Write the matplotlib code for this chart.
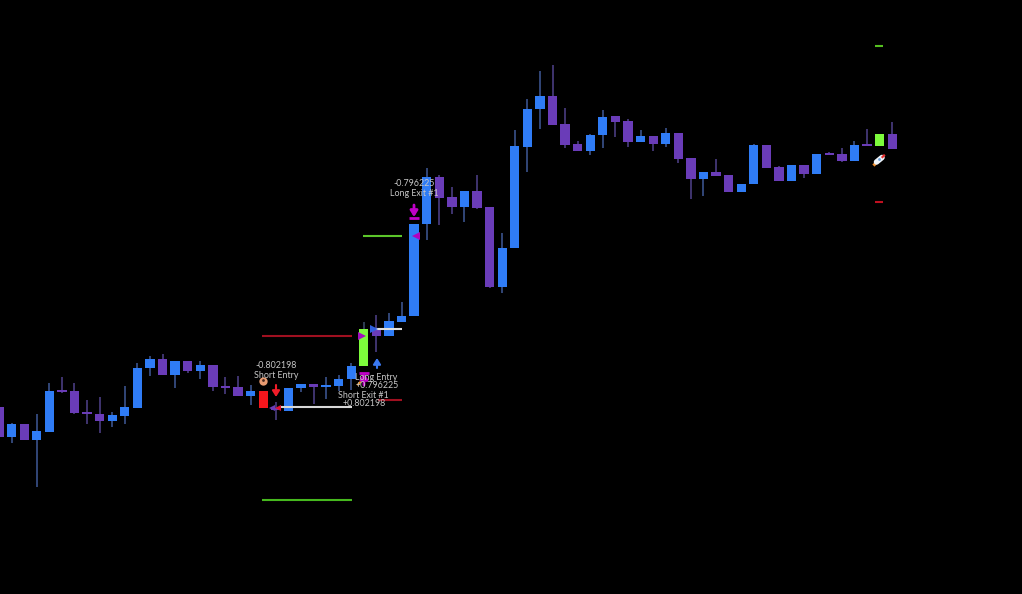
import matplotlib
matplotlib.use("Agg")
import matplotlib.pyplot as plt
from matplotlib.patches import Rectangle

# Price scale runs downward on screen: values are chart-scale readings.
opens_top = [406.7,424,424,431,390.7,390.3,391,412,413.7,415,407.3,367.7,359.3,359.3,360.7,360.7,365,365,386.3,387,
             391.3,391.3,407.7,388,384.3,384.3,385.3,379,365.7,328.7,330,321.3,315.7,224,177.3,177.3,197.3,191,191.3,207,
             248,146,108.7,96,96,124.3,144.3,134.7,116.7,116.3,121.3,135.7,135.7,132.7,132.7,158,171.7,171.7,175.3,183.7,
             145,145,167.3,164.7,164.7,153.7,153.3,154.3,144.7,144.3,134,134]
bodies_bot = [437.3,437,440,440,431.7,391.7,412.7,414,421,421,415.7,408,368.3,375.3,375.3,371,371,387,387.7,396,
              396,408.3,410,410.7,388.3,386.7,387,385.7,379.3,366,335.7,335.7,321.7,316,224,197.7,206.7,206.7,207.7,287,
              287,248.3,146.7,109,125,145,150.7,150.7,135.3,122,142.3,142.3,143.7,143.7,158.7,179,179,175.7,191.7,191.7,
              184,168,180.7,180.7,174.3,174.3,154.7,161,161,145.7,145.7,149.3]
highs = [406.7,422.7,424,414,382.7,376.7,382.7,400,397.3,411.7,386,362.7,356,354,360.7,360.7,360.7,365,376.7,376,
         385,391.3,401.7,388,384.3,384.3,377.3,375,363.3,321.7,315,313.3,301.7,224,168.3,175,187.3,191,175,207,
         232.7,130,99.3,71,65,108.3,141,133.7,110,116.3,119.3,130,135.7,128.3,132.7,158,171.7,159.3,175.3,183.7,
         143.7,145,165.7,164.7,164.7,153.7,152.3,147.7,140.7,129,134,121.7]
lows = [437.3,443,440,486.7,431.7,393.3,414,424.3,432.7,427.3,424.3,408,376,375.3,387.7,373.3,379,390.7,394.3,396,
        405,408.3,420,410.7,391.7,404,399.3,390.7,390,366,351.7,335.7,321.7,316,240,225,214,222.3,209.3,288.3,
        293.3,248.3,171.7,129.3,125,148.3,150.7,155,148.3,136.7,146.7,142.3,150.7,147.3,163.3,199.3,196,175.7,191.7,191.7,
        184,168,180.7,180.7,178,174.3,154.7,162,161,145.7,145.7,149.3]
kinds = ("p b p b b p p p p b b b b p b p b p p p "
         "b r p b b p b b b l p b b b b p p b p p "
         "b b b b p p p b b p p b p b p p b p p b "
         "b p p b p b p p b p l p").split()
labels_top = ["-0.802198", "-0.796225"]
labels_bottom = ["Short Entry", "Long Exit #1"]
labels_other = ["Long Entry", "+0.796225", "Short Exit #1", "+0.802198"]

BODY = {"b": "#2f7cf6", "p": "#6a3cb8", "l": "#7dfb3c", "r": "#f4161c"}
WICK = {"b": "#3f5a98", "p": "#50428c", "l": "#3c4f6a", "r": "#7a2030"}

SP = 12.58
def ix(px):
    return (px + 1) / SP

fig = plt.figure(figsize=(10.22, 5.94), dpi=100, facecolor="black")
ax = fig.add_axes([0, 0, 1, 1], facecolor="black")
ax.set_xlim(ix(0), ix(1022))
ax.set_ylim(594, 0)
ax.axis("off")

for i, k in enumerate(kinds):
    ax.plot([i, i], [highs[i], lows[i]], color=WICK[k], lw=1.1, solid_capstyle="butt", zorder=2)
    ax.add_patch(Rectangle((i - 0.37, opens_top[i]), 0.74, bodies_bot[i] - opens_top[i],
                           fc=BODY[k], ec="none", zorder=3))

def level(x0, x1, y, c, lw=1.5):
    ax.plot([ix(x0), ix(x1)], [y, y], color=c, lw=lw, solid_capstyle="butt", zorder=4)

level(262, 352, 336, "#a01020")
level(280, 352, 407, "#d8d8d8")
level(262, 352, 500, "#46b81e")
level(363, 402, 236, "#5cc62a")
level(375, 402, 329, "#e0e0e0")
level(378, 402, 400, "#a01020")
level(875, 883, 46, "#55c020")
level(875, 883, 202, "#c01020")

def tri(px, y, m, c, s=5):
    ax.plot([ix(px)], [y], marker=m, color=c, ms=s, mew=0, zorder=5)

tri(361.5, 336, ">", "#a010c0", 6)
tri(374, 329, ">", "#3060e0", 6)
tri(278, 408, "<", "#e01030", 5)
tri(272, 408, "<", "#6a3cb8", 5)
tri(416, 236, "<", "#b000c0", 6)

def arrow(px, y0, y1, c, lw=1.5):
    ax.annotate("", xy=(ix(px), y1), xytext=(ix(px), y0),
                arrowprops=dict(arrowstyle="-|>,head_width=0.22,head_length=0.35", color=c, lw=lw,
                                shrinkA=0, shrinkB=0), zorder=6)

arrow(276, 385, 397, "#f01c28")
arrow(377, 368, 358, "#3a78f0")
arrow(364, 385, 373, "#c000c8", 2)
level(359, 369, 373, "#c000c8", 2)
arrow(414, 205, 217, "#c000c8", 2)
level(409, 419, 217.5, "#c000c8", 2)

# small icons
ax.plot([ix(263)], [381], marker="o", color="#e89a70", ms=6, mew=0, zorder=6)
ax.plot([ix(263)], [380], marker="o", color="#4a2a20", ms=2, mew=0, zorder=7)
ax.plot([ix(358), ix(360)], [384.5, 382.5], color="#f09020", lw=1.5, zorder=6)
ax.plot([ix(874.5), ix(876.5)], [164.5, 162.5], color="#f09030", lw=2.2, zorder=6)
ax.plot([ix(876.5), ix(882)], [162, 157.5], color="#eef4fa", lw=4, solid_capstyle="round", zorder=7)
ax.plot([ix(882.5), ix(884)], [157, 155.5], color="#e83030", lw=1.6, zorder=8)
ax.plot([ix(879)], [159], marker="o", color="#6aa0d8", ms=2, mew=0, zorder=8)

def label(px, y, s):
    ax.text(ix(px), y, s, color="#c6c6c6", fontsize=6.4, ha="center", va="center",
            family="Lato", zorder=9)

label(276, 365, labels_top[0])
label(276, 375, labels_bottom[0])
label(414, 184, labels_top[1])
label(414, 194, labels_bottom[1])
label(376, 378, labels_other[0])
label(377, 386, labels_other[1])
label(363, 395, labels_other[2])
label(364, 403.5, labels_other[3])

fig.savefig("out.png", dpi=100, facecolor="black")
